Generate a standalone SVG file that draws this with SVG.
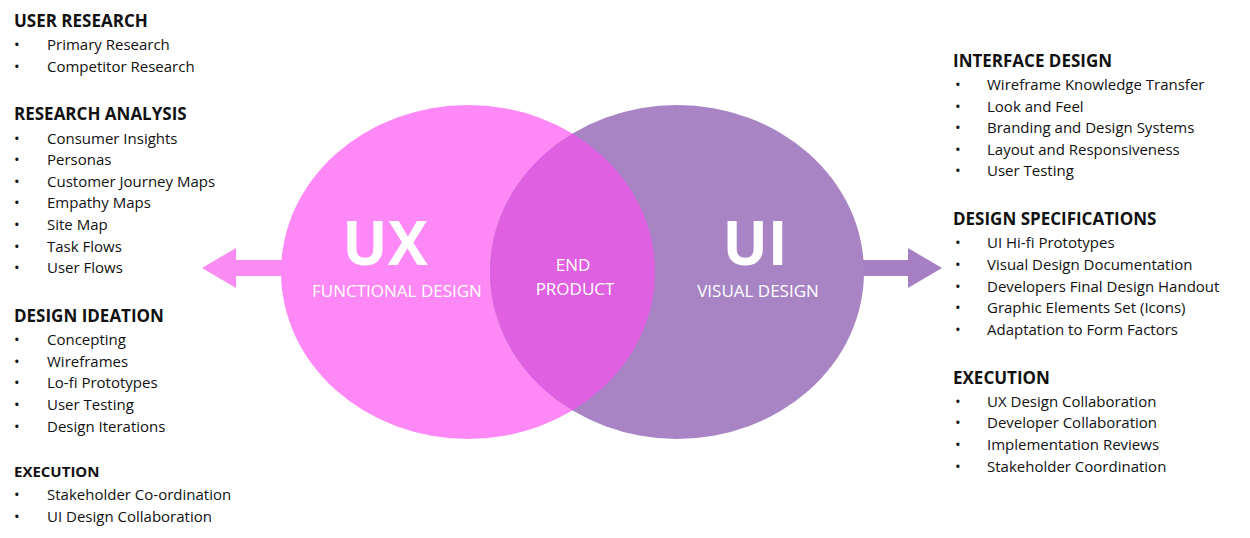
<svg xmlns="http://www.w3.org/2000/svg" width="1250" height="538" viewBox="0 0 1250 538">
<style>
text{font-family:"Open Sans","Liberation Sans",sans-serif;fill:#111}
.h{font-size:17px;font-weight:bold}
.hs{font-size:15px;font-weight:bold}
.i{font-size:15px}
.w{fill:#fff}
</style>
<defs><clipPath id="lc"><ellipse cx="468" cy="272" rx="187" ry="167"/></clipPath></defs>
<g id="connectors">
<polygon points="285,260 236,260 236,248 202,268 236,288 236,276 285,276" fill="#F98BF2"/>
<polygon points="860,260 908,260 908,248 942,268 908,288 908,276 860,276" fill="#A77FC4"/>
</g>
<g id="ux"><ellipse cx="468" cy="272" rx="187" ry="167" fill="#FF88F7"/>
<text x="385" y="265" class="w" font-size="60" font-weight="bold" text-anchor="middle">UX</text>
<text x="397" y="297" class="w" font-size="17" text-anchor="middle">FUNCTIONAL DESIGN</text></g>
<g id="ui"><ellipse cx="677" cy="272" rx="187" ry="167" fill="#A884C4"/>
<text x="755" y="265" class="w" font-size="60" font-weight="bold" text-anchor="middle">UI</text>
<text x="758" y="297" class="w" font-size="17" text-anchor="middle">VISUAL DESIGN</text></g>
<g id="end"><ellipse cx="677" cy="272" rx="187" ry="167" fill="#DF60E1" clip-path="url(#lc)"/>
<text x="573" y="271" class="w" font-size="17" text-anchor="middle">END</text>
<text x="575" y="295" class="w" font-size="17" text-anchor="middle">PRODUCT</text></g>
<g id="left">
<text x="14" y="27" class="h">USER RESEARCH</text>
<text x="14" y="50" class="i">•</text><text x="47" y="50" class="i">Primary Research</text>
<text x="14" y="72" class="i">•</text><text x="47" y="72" class="i">Competitor Research</text>
<text x="14" y="120" class="h">RESEARCH ANALYSIS</text>
<text x="14" y="144" class="i">•</text><text x="47" y="144" class="i">Consumer Insights</text>
<text x="14" y="165" class="i">•</text><text x="47" y="165" class="i">Personas</text>
<text x="14" y="187" class="i">•</text><text x="47" y="187" class="i">Customer Journey Maps</text>
<text x="14" y="208" class="i">•</text><text x="47" y="208" class="i">Empathy Maps</text>
<text x="14" y="230" class="i">•</text><text x="47" y="230" class="i">Site Map</text>
<text x="14" y="252" class="i">•</text><text x="47" y="252" class="i">Task Flows</text>
<text x="14" y="273" class="i">•</text><text x="47" y="273" class="i">User Flows</text>
<text x="14" y="322" class="h">DESIGN IDEATION</text>
<text x="14" y="345" class="i">•</text><text x="47" y="345" class="i">Concepting</text>
<text x="14" y="367" class="i">•</text><text x="47" y="367" class="i">Wireframes</text>
<text x="14" y="388" class="i">•</text><text x="47" y="388" class="i">Lo-fi Prototypes</text>
<text x="14" y="410" class="i">•</text><text x="47" y="410" class="i">User Testing</text>
<text x="14" y="432" class="i">•</text><text x="47" y="432" class="i">Design Iterations</text>
<text x="14" y="477" class="hs">EXECUTION</text>
<text x="14" y="500" class="i">•</text><text x="47" y="500" class="i">Stakeholder Co-ordination</text>
<text x="14" y="522" class="i">•</text><text x="47" y="522" class="i">UI Design Collaboration</text>
</g>
<g id="right">
<text x="953" y="67" class="h">INTERFACE DESIGN</text>
<text x="955" y="90" class="i">•</text><text x="987" y="90" class="i">Wireframe Knowledge Transfer</text>
<text x="955" y="112" class="i">•</text><text x="987" y="112" class="i">Look and Feel</text>
<text x="955" y="133" class="i">•</text><text x="987" y="133" class="i">Branding and Design Systems</text>
<text x="955" y="155" class="i">•</text><text x="987" y="155" class="i">Layout and Responsiveness</text>
<text x="955" y="176" class="i">•</text><text x="987" y="176" class="i">User Testing</text>
<text x="953" y="225" class="h">DESIGN SPECIFICATIONS</text>
<text x="955" y="248" class="i">•</text><text x="987" y="248" class="i">UI Hi-fi Prototypes</text>
<text x="955" y="270" class="i">•</text><text x="987" y="270" class="i">Visual Design Documentation</text>
<text x="955" y="292" class="i">•</text><text x="987" y="292" class="i">Developers Final Design Handout</text>
<text x="955" y="313" class="i">•</text><text x="987" y="313" class="i">Graphic Elements Set (Icons)</text>
<text x="955" y="335" class="i">•</text><text x="987" y="335" class="i">Adaptation to Form Factors</text>
<text x="953" y="384" class="h">EXECUTION</text>
<text x="955" y="407" class="i">•</text><text x="987" y="407" class="i">UX Design Collaboration</text>
<text x="955" y="428" class="i">•</text><text x="987" y="428" class="i">Developer Collaboration</text>
<text x="955" y="450" class="i">•</text><text x="987" y="450" class="i">Implementation Reviews</text>
<text x="955" y="472" class="i">•</text><text x="987" y="472" class="i">Stakeholder Coordination</text>
</g>
</svg>
